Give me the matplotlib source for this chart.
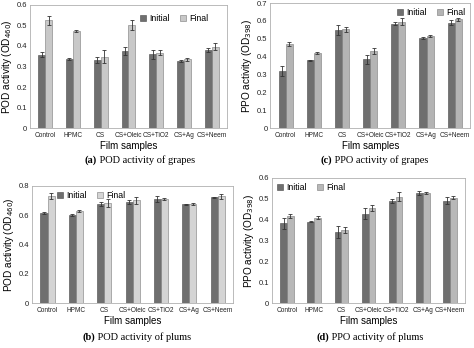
import matplotlib.pyplot as plt
import numpy as np

samples = ['Control', 'HPMC', 'CS', 'CS+Oleic', 'CS+TiO2', 'CS+Ag', 'CS+Neem']

# POD activity of grapes
pod_grapes_init = [0.357, 0.337, 0.333, 0.375, 0.360, 0.328, 0.380]
pod_grapes_final = [0.525, 0.472, 0.347, 0.502, 0.368, 0.335, 0.397]
pod_grapes_init_err = [0.012, 0.005, 0.015, 0.020, 0.022, 0.004, 0.008]
pod_grapes_final_err = [0.022, 0.004, 0.032, 0.025, 0.010, 0.008, 0.017]

# PPO activity of grapes
ppo_grapes_init = [0.320, 0.380, 0.550, 0.385, 0.585, 0.505, 0.590]
ppo_grapes_final = [0.472, 0.420, 0.553, 0.432, 0.597, 0.515, 0.610]
ppo_grapes_init_err = [0.027, 0.004, 0.030, 0.025, 0.010, 0.007, 0.015]
ppo_grapes_final_err = [0.010, 0.005, 0.015, 0.015, 0.022, 0.004, 0.008]

# POD activity of plums
pod_plums_init = [0.615, 0.600, 0.678, 0.690, 0.710, 0.675, 0.722]
pod_plums_final = [0.730, 0.628, 0.683, 0.700, 0.712, 0.677, 0.728]
pod_plums_init_err = [0.008, 0.005, 0.015, 0.015, 0.020, 0.003, 0.005]
pod_plums_final_err = [0.022, 0.005, 0.030, 0.025, 0.008, 0.005, 0.018]

# PPO activity of plums
ppo_plums_init = [0.382, 0.390, 0.340, 0.428, 0.490, 0.527, 0.490]
ppo_plums_final = [0.418, 0.410, 0.350, 0.457, 0.510, 0.527, 0.505]
ppo_plums_init_err = [0.027, 0.003, 0.030, 0.027, 0.010, 0.010, 0.017]
ppo_plums_final_err = [0.010, 0.006, 0.015, 0.015, 0.020, 0.005, 0.007]

plt.rcParams['font.family'] = 'Liberation Sans'

fig = plt.figure(figsize=(4.74, 3.48), dpi=100)


def panel(rect, init, final, init_err, final_err, ymax, step, ylabel, sub,
          legend_loc, legend_anchor, final_color):
    ax = fig.add_axes(rect)
    x = np.arange(len(samples))
    w = 0.25
    ekw = dict(elinewidth=0.6, capsize=1.5, capthick=0.6)
    ax.bar(x - w / 2, init, w, yerr=init_err, color='#6f6f6f', edgecolor='#4a4a4a',
           linewidth=0.4, ecolor='#333333', error_kw=ekw, label='Initial')
    ax.bar(x + w / 2, final, w, yerr=final_err, color=final_color, edgecolor='#7a7a7a',
           linewidth=0.4, ecolor='#333333', error_kw=ekw, label='Final')
    ax.set_xlim(-0.55, len(samples) - 0.45)
    ax.set_ylim(0, ymax)
    ticks = np.arange(0, ymax + 1e-9, step)
    ax.set_yticks(ticks)
    ax.set_yticklabels(['%g' % round(v, 2) for v in ticks])
    ax.set_xticks(x)
    ax.set_xticklabels(samples)
    ax.tick_params(axis='y', labelsize=5.5, length=0, pad=2, colors='#222222')
    ax.tick_params(axis='x', labelsize=4.7, length=0, pad=2.5, colors='#222222')
    for s in ax.spines.values():
        s.set_color('#b0b0b0')
        s.set_linewidth(0.6)
    ax.set_xlabel('Film samples', fontsize=7, labelpad=1.5)
    ax.set_ylabel(ylabel + r' (OD$_{' + sub + '}$)', fontsize=7.2, labelpad=2)
    ax.legend(loc=legend_loc, bbox_to_anchor=legend_anchor, ncol=2, frameon=False,
              fontsize=6.3, handlelength=0.7, handleheight=0.7, handletextpad=0.3,
              columnspacing=1.2, borderaxespad=0.2)
    return ax


panel([0.063, 0.632, 0.416, 0.354], pod_grapes_init, pod_grapes_final,
      pod_grapes_init_err, pod_grapes_final_err, 0.6, 0.1, 'POD activity', '460',
      'upper right', (0.93, 0.97), '#c8c8c8')
panel([0.570, 0.632, 0.422, 0.359], ppo_grapes_init, ppo_grapes_final,
      ppo_grapes_init_err, ppo_grapes_final_err, 0.7, 0.1, 'PPO activity', '398',
      'upper right', (1.0, 1.0), '#b4b4b4')
panel([0.0675, 0.129, 0.4245, 0.337], pod_plums_init, pod_plums_final,
      pod_plums_init_err, pod_plums_final_err, 0.8, 0.2, 'POD activity', '460',
      'upper left', (0.1, 1.0), '#d4d4d4')
panel([0.574, 0.129, 0.407, 0.360], ppo_plums_init, ppo_plums_final,
      ppo_plums_init_err, ppo_plums_final_err, 0.6, 0.1, 'PPO activity', '398',
      'upper left', (0.0, 1.0), '#b8b8b8')

# panel captions: bold tag followed by plain serif text
captions = [
    (0.205, 0.54, '(a)', ' POD activity of grapes'),
    (0.70, 0.54, '(c)', ' PPO activity of grapes'),
    (0.20, 0.03, '(b)', ' POD activity of plums'),
    (0.695, 0.03, '(d)', ' PPO activity of plums'),
]
for cx, cy, tag, txt in captions:
    fig.text(cx, cy, tag, fontsize=7.5, fontweight='bold', family='Liberation Serif',
             ha='right', va='center')
    fig.text(cx, cy, txt, fontsize=7.5, family='Liberation Serif', ha='left', va='center')

fig.savefig('out.png', dpi=100)
